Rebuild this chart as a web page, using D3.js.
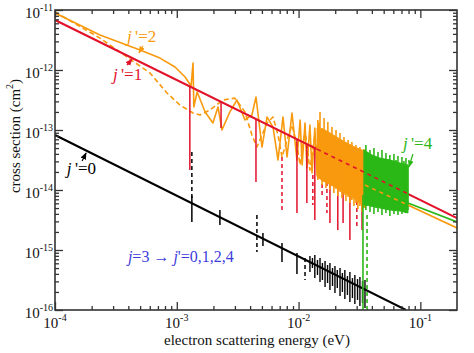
<!DOCTYPE html>
<html><head><meta charset="utf-8">
<script src="https://cdn.jsdelivr.net/npm/d3@7"></script>
<style>body{margin:0;background:#fff}svg{display:block}</style>
</head><body><svg id="c" width="474" height="353" style="font-family:'Liberation Serif','Times New Roman',Times,serif"></svg>
<script>
// ---------------- data (energy in eV, cross section in cm^2) ----------------
const xDomain=[1e-4,0.2];
const yDomain=[1e-16,1e-11];
const xMajorTicks=[1e-4,1e-3,1e-2,1e-1];
const xTickExponents=["-4","-3","-2","-1"];
const yMajorTicks=[1e-16,1e-15,1e-14,1e-13,1e-12,1e-11];
const yTickExponents=["-16","-15","-14","-13","-12","-11"];

// j'=1 (red)
const j1Line=[[1e-4,6.81e-12],[0.2,3.41e-15]];
const j1Spikes=[[1.28e-3,5.31e-13,2.15e-14],[2.31e-3,2.95e-13,1.08e-13],[4.47e-3,1.52e-13,1.36e-14],[9.7e-3,7.03e-14,4.14e-15],[1.17e-2,5.82e-14,6.07e-15],[1.36e-2,5.01e-14,3.16e-15],[1.81e-2,3.77e-14,2.82e-15],[2.10e-2,3.24e-14,2.15e-15],[2.32e-2,2.95e-14,2.82e-15],[2.64e-2,2.58e-14,1.47e-15],[3.32e-2,2.06e-14,2.15e-15]];
const j1DashedSpikes=[[7.31e-3,3.55e-14,4.64e-15],[1.31e-2,1.78e-14,5.62e-15],[1.56e-2,2.15e-14,7.65e-15],[1.71e-2,1.78e-14,4.14e-15],[3.01e-2,1.47e-14,2.42e-15]];
const j1DashedLine=[[1.24e-2,5.49e-14],[8.22e-2,8.32e-15]];

// j'=2 (orange)
const j2Solid=[[1e-4,8.9e-12],[2.34e-4,3.83e-12],[4.99e-4,2.15e-12],[7.28e-4,1.58e-12],[9.67e-4,1.12e-12],[1.17e-3,7.65e-13],[1.31e-3,5.41e-13],[1.36e-3,1.31e-12],[1.38e-3,2.42e-13],[1.47e-3,4.3e-13],[1.71e-3,2.0e-13],[1.98e-3,1.31e-13],[2.18e-3,2.42e-13],[2.35e-3,1.0e-13],[2.73e-3,2.0e-13],[3.12e-3,3.16e-13],[3.63e-3,1.47e-13],[4.14e-3,1.78e-13],[4.47e-3,3.55e-13],[5.01e-3,5.2e-14],[5.51e-3,1.65e-13],[6.17e-3,1.12e-13],[6.78e-3,3.16e-14],[7.45e-3,1.65e-13],[8.04e-3,3.55e-14],[8.83e-3,1.92e-13],[9.7e-3,3.16e-14],[1.03e-2,1.47e-13],[1.07e-2,2.61e-14],[1.13e-2,1.31e-13],[1.17e-2,2.33e-14],[1.24e-2,1.21e-13],[1.29e-2,1.92e-14],[1.36e-2,1.08e-13],[1.42e-2,1.78e-14],[1.47e-2,1.31e-13],[1.53e-2,1.58e-14],[1.59e-2,1.0e-13],[1.65e-2,1.36e-14]];
const j2Dashed=[[1e-4,9.3e-12],[2.34e-4,3.4e-12],[3.9e-4,1.65e-12],[6.03e-4,8.9e-13],[8.31e-4,4.14e-13],[1.06e-3,2.61e-13],[1.36e-3,1.92e-13],[1.55e-3,1.78e-13],[1.87e-3,2.15e-13],[2.39e-3,3.16e-13],[3.0e-3,3.4e-13],[3.63e-3,2.0e-13],[4.14e-3,8.25e-14],[4.55e-3,5.2e-14],[5.01e-3,8.25e-14],[5.51e-3,1.31e-13],[6.17e-3,1.65e-13],[6.78e-3,8.25e-14],[7.31e-3,3.55e-14],[8.04e-3,6.81e-14],[8.83e-3,1.21e-13],[9.7e-3,5.62e-14],[1.03e-2,2.61e-14],[1.13e-2,1.0e-13],[1.24e-2,2.15e-14],[1.36e-2,8.25e-14],[1.5e-2,1.58e-14]];
const j2Band=[[1.42e-2,1.08e-13,1.65e-14],[1.65e-2,1.0e-13,1.36e-14],[1.99e-2,7.94e-14,1.12e-14],[2.40e-2,6.31e-14,8.9e-15],[2.90e-2,5.2e-14,7.08e-15],[3.32e-2,4.64e-14,5.62e-15],[3.51e-2,4.3e-14,5.01e-15]];
const j2Columns=[[1.44e-2,1.47e-13,1.47e-14],[1.50e-2,2.0e-13,1.71e-14],[1.56e-2,1.08e-13,1.21e-14],[1.62e-2,1.58e-13,1.36e-14],[1.68e-2,8.9e-14,1.08e-14],[1.74e-2,1.36e-13,1.26e-14],[1.81e-2,7.94e-14,1.0e-14],[1.88e-2,1.12e-13,1.17e-14],[1.95e-2,7.08e-14,8.9e-15],[2.03e-2,1.0e-13,1.04e-14],[2.10e-2,6.56e-14,7.94e-15],[2.19e-2,8.9e-14,9.3e-15],[2.27e-2,5.84e-14,7.36e-15],[2.36e-2,7.65e-14,8.25e-15],[2.45e-2,5.41e-14,6.56e-15],[2.55e-2,6.81e-14,7.65e-15],[2.64e-2,5.01e-14,6.07e-15],[2.74e-2,6.31e-14,6.81e-15],[2.85e-2,4.64e-14,5.41e-15],[2.96e-2,5.62e-14,6.07e-15],[3.07e-2,4.47e-14,4.84e-15],[3.19e-2,5.2e-14,5.41e-15],[3.32e-2,4.3e-14,4.3e-15],[3.44e-2,4.84e-14,5.01e-15]];
const j2Tail=[[3.51e-2,1.21e-14],[0.2,2.33e-15]];
const j2TailDashed=[[3.51e-2,1.21e-14],[8.22e-2,5.41e-15]];

// j'=4 (green)
const j4Band=[[3.44e-2,4.64e-14,5.62e-15],[4.01e-2,3.83e-14,5.41e-15],[4.66e-2,3.4e-14,5.01e-15],[5.62e-2,3.16e-14,4.64e-15],[6.80e-2,2.82e-14,4.47e-15],[7.91e-2,2.61e-14,4.14e-15]];
const j4Columns=[[3.57e-2,5.62e-14,4.64e-15],[3.72e-2,3.83e-14,5.62e-15],[3.86e-2,4.64e-14,4.3e-15],[4.01e-2,3.4e-14,5.2e-15],[4.16e-2,5.01e-14,3.98e-15],[4.32e-2,3.16e-14,5.01e-15],[4.49e-2,4.3e-14,4.3e-15],[4.66e-2,3.4e-14,5.41e-15],[4.84e-2,4.64e-14,3.83e-15],[5.02e-2,3.04e-14,4.84e-15],[5.22e-2,4.14e-14,4.14e-15],[5.42e-2,3.28e-14,5.2e-15],[5.62e-2,3.83e-14,3.68e-15],[5.85e-2,2.93e-14,4.64e-15],[6.07e-2,3.98e-14,3.98e-15],[6.31e-2,3.16e-14,5.01e-15],[6.55e-2,3.68e-14,3.83e-15],[6.80e-2,2.82e-14,4.64e-15],[7.06e-2,3.55e-14,3.98e-15],[7.33e-2,3.04e-14,4.84e-15],[7.62e-2,3.4e-14,4.14e-15],[7.91e-2,2.61e-14,4.64e-15]];
const j4Threshold=[[3.38e-2,8.25e-15,1e-16]];
const j4ThresholdDashed=[[3.65e-2,3.83e-15,1e-16]];
const j4Tail=[[7.91e-2,6.07e-15],[0.2,2.93e-15]];

// j'=0 (black)
const j0Line=[[1e-4,8.25e-14],[7.62e-2,1e-16]];
const j0Spikes=[[1.33e-3,7.94e-15,2.93e-15],[2.26e-3,4.64e-15,2.61e-15],[5.1e-3,1.92e-15,1.17e-15],[7.31e-3,1.31e-15,6.31e-16],[9.7e-3,8.9e-16,3.98e-16]];
const j0DashedSpikes=[[1.33e-3,4.3e-14,6.81e-15],[4.55e-3,3.83e-15,9.3e-16],[1.13e-2,7.36e-16,3.16e-16]];
const j0Dense=[[1.24e-2,7.94e-16,4.3e-16],[1.30e-2,7.36e-16,5.01e-16],[1.36e-2,8.25e-16,3.4e-16],[1.43e-2,6.81e-16,3.83e-16],[1.50e-2,7.36e-16,2.93e-16],[1.57e-2,6.07e-16,3.16e-16],[1.65e-2,6.56e-16,2.42e-16],[1.73e-2,5.62e-16,2.82e-16],[1.81e-2,6.07e-16,2.15e-16],[1.90e-2,5.01e-16,2.51e-16],[1.99e-2,5.41e-16,1.92e-16],[2.08e-2,4.64e-16,2.33e-16],[2.19e-2,5.01e-16,1.71e-16],[2.29e-2,4.14e-16,2.0e-16],[2.40e-2,4.64e-16,1.52e-16],[2.52e-2,3.68e-16,1.78e-16],[2.64e-2,4.3e-16,1.36e-16],[2.77e-2,3.4e-16,1.58e-16],[2.90e-2,3.83e-16,1.26e-16],[3.05e-2,3.28e-16,1.47e-16],[3.19e-2,3.55e-16,1.17e-16],[3.35e-2,3.04e-16,1.31e-16],[3.51e-2,3.16e-16,1.08e-16]];

// annotations: [E, sigma] anchors
const labelNames=["j'=2","j'=1","j'=0","j'=4"];
const labelAnchors=[[3.9e-4,2.93e-12],[2.99e-4,6.81e-13],[1.25e-4,1.85e-14],[7.19e-2,4.84e-14]];
const arrowFrom=[[5.28e-4,2.51e-12],[3.9e-4,1.21e-12],[1.67e-4,3.04e-14],[8.69e-2,3.98e-14]];
const arrowTo=[[4.89e-4,1.92e-12],[4.29e-4,1.52e-12],[1.80e-4,4.14e-14],[8.05e-2,2.42e-14]];
const transitionAnchor=[3.97e-4,6.31e-16];

// ---------------- drawing ----------------
const C={red:"#e2122b",orange:"#f99a0e",green:"#2bb817",black:"#000",blue:"#3c3cdc",axis:"#333"};
const labelColors=[C.orange,C.red,C.black,C.green];
const svg=d3.select("#c");
const L=55,R=457,T=10,B=310;
const x=d3.scaleLog().domain(xDomain).range([L,R]);
const y=d3.scaleLog().domain(yDomain).range([B,T]);
const defs=svg.append("defs");
defs.append("clipPath").attr("id","clip").append("rect").attr("x",L).attr("y",T).attr("width",R-L).attr("height",B-T);
labelColors.forEach((c,i)=>{
  defs.append("marker").attr("id","ah"+i).attr("viewBox","0 0 10 10").attr("refX",9).attr("refY",5)
    .attr("markerWidth",6).attr("markerHeight",6).attr("orient","auto")
    .append("path").attr("d","M0,1L10,5L0,9Z").attr("fill",c);
});
const plot=svg.append("g").attr("clip-path","url(#clip)");
const line=d3.line().x(d=>x(d[0])).y(d=>y(d[1]));
const area=d3.area().x(d=>x(d[0])).y0(d=>y(d[2])).y1(d=>y(d[1]));
const DASH="5,3";
function drawLine(data,color,w,dash){plot.append("path").datum(data).attr("d",line).attr("fill","none").attr("stroke",color).attr("stroke-width",w).attr("stroke-dasharray",dash||null).attr("stroke-linejoin","round");}
function drawSpikes(data,color,w,dash){plot.append("g").selectAll("line").data(data).join("line").attr("x1",d=>x(d[0])).attr("x2",d=>x(d[0])).attr("y1",d=>y(d[1])).attr("y2",d=>y(d[2])).attr("stroke",color).attr("stroke-width",w).attr("stroke-dasharray",dash||null);}
function drawBand(data,color){plot.append("path").datum(data).attr("d",area).attr("fill",color).attr("stroke",color).attr("stroke-width",1);}

// j'=0
drawLine(j0Line,C.black,2);
drawSpikes(j0Spikes,C.black,1.5);
drawSpikes(j0DashedSpikes,C.black,1.5,"4,3");
drawSpikes(j0Dense,C.black,1.4);
// j'=2 curves
drawLine(j2Dashed,C.orange,1.6,DASH);
drawLine(j2Solid,C.orange,1.6);
// j'=1
drawLine(j1Line,C.red,2);
drawSpikes(j1Spikes,C.red,1.5);
drawSpikes(j1DashedSpikes,C.red,1.5,"4,3");
// j'=2 dense region
drawLine(j2Tail,C.orange,1.8);
drawBand(j2Band,C.orange);
drawSpikes(j2Columns,C.orange,1.6);
// j'=4
drawBand(j4Band,C.green);
drawSpikes(j4Columns,C.green,1.6);
drawSpikes(j4Threshold,C.green,1.6);
drawSpikes(j4ThresholdDashed,C.green,1.6,"4,3");
drawLine(j4Tail,C.green,1.8);
// overlays of the dashed calculations
drawLine(j1DashedLine,C.red,1.6,"4,4");
drawLine(j2TailDashed,C.orange,1.6,"4,4");

// ---------------- axes ----------------
function minorOf(domain){const t=[];for(let e=-17;e<=0;e++)for(let m=2;m<=9;m++){const v=m*Math.pow(10,e);if(v>domain[0]*1.0001&&v<domain[1]*0.9999)t.push(v);}return t;}
const xMinor=minorOf(xDomain), yMinor=minorOf(yDomain);
function ax(gen,tr,vals,size){const g=svg.append("g").attr("transform",tr).call(gen.tickValues(vals).tickSize(size).tickFormat(""));g.select(".domain").remove();g.selectAll("line").attr("stroke",C.axis).attr("stroke-width",1.3);}
ax(d3.axisBottom(x),`translate(0,${B})`,xMajorTicks,-8);
ax(d3.axisBottom(x),`translate(0,${B})`,xMinor,-4);
ax(d3.axisTop(x),`translate(0,${T})`,xMajorTicks,-8);
ax(d3.axisTop(x),`translate(0,${T})`,xMinor,-4);
ax(d3.axisLeft(y),`translate(${L},0)`,yMajorTicks,-8);
ax(d3.axisLeft(y),`translate(${L},0)`,yMinor,-4);
ax(d3.axisRight(y),`translate(${R},0)`,yMajorTicks,-8);
ax(d3.axisRight(y),`translate(${R},0)`,yMinor,-4);
svg.append("rect").attr("x",L).attr("y",T).attr("width",R-L).attr("height",B-T).attr("fill","none").attr("stroke",C.axis).attr("stroke-width",1.6);

const FONT="'Liberation Serif','Times New Roman',Times,serif";
// tick labels
xMajorTicks.forEach((v,i)=>{
  const t=svg.append("text").attr("x",x(v)).attr("y",328).attr("text-anchor","middle").attr("font-family",FONT).attr("font-size",15).attr("fill","#111");
  t.append("tspan").text("10");
  t.append("tspan").attr("font-size",10).attr("dy",-7).text(xTickExponents[i]);
});
yMajorTicks.forEach((v,i)=>{
  const t=svg.append("text").attr("x",53).attr("y",y(v)+8).attr("text-anchor","end").attr("font-family",FONT).attr("font-size",15).attr("fill","#111");
  t.append("tspan").text("10");
  t.append("tspan").attr("font-size",10).attr("dy",-7).text(yTickExponents[i]);
});
// axis titles
svg.append("text").attr("x",257).attr("y",345).attr("text-anchor","middle").attr("font-family",FONT).attr("font-size",15).attr("fill","#111").text("electron scattering energy (eV)");
const yt=svg.append("text").attr("transform","translate(20,136) rotate(-90)").attr("text-anchor","middle").attr("font-family",FONT).attr("font-size",15).attr("fill","#111");
yt.append("tspan").text("cross section (cm");
yt.append("tspan").attr("font-size",10).attr("dy",-7).text("2");
yt.append("tspan").attr("dy",7).text(")");

// annotations
labelNames.forEach((s,i)=>{
  const a=labelAnchors[i];
  const t=svg.append("text").attr("x",x(a[0])).attr("y",y(a[1])).attr("font-family",FONT).attr("font-size",17).attr("fill",labelColors[i]);
  t.append("tspan").attr("font-style","italic").text(s.slice(0,1));
  t.append("tspan").text("\u2009"+s.slice(1));
  svg.append("line").attr("x1",x(arrowFrom[i][0])).attr("y1",y(arrowFrom[i][1])).attr("x2",x(arrowTo[i][0])).attr("y2",y(arrowTo[i][1]))
    .attr("stroke",labelColors[i]).attr("stroke-width",1.2).attr("marker-end",`url(#ah${i})`);
});
const bt=svg.append("text").attr("x",x(transitionAnchor[0])).attr("y",y(transitionAnchor[1])).attr("font-family",FONT).attr("font-size",16).attr("fill",C.blue);
bt.append("tspan").attr("font-style","italic").text("j");
bt.append("tspan").text("=3 \u2192 ");
bt.append("tspan").attr("font-style","italic").text("j");
bt.append("tspan").text("'=0,1,2,4");
</script></body></html>
